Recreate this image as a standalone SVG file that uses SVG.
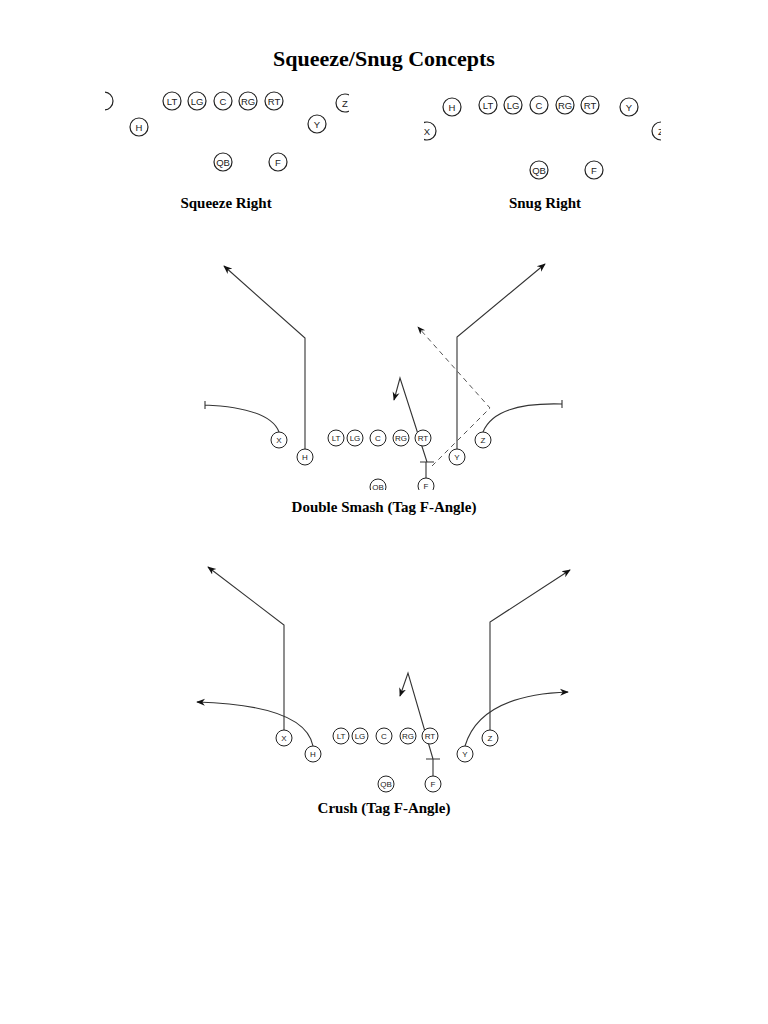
<svg xmlns="http://www.w3.org/2000/svg" width="768" height="1024" viewBox="0 0 768 1024">
<style>
.t{font-family:"Liberation Serif",serif;font-weight:bold;fill:#000;text-anchor:middle}
.n circle{fill:#fff;stroke:#222;stroke-width:1}
.n text{font-family:"Liberation Sans",sans-serif;font-size:8px;text-anchor:middle;fill:#222}
.big circle{stroke-width:1.2}
.big text{font-size:9.5px}
.r{fill:none;stroke:#333;stroke-width:1.1}
.d{fill:none;stroke:#555;stroke-width:1;stroke-dasharray:5,4}
</style>
<defs>
<marker id="a" viewBox="0 0 10 10" refX="9" refY="5" markerWidth="8" markerHeight="8" orient="auto"><path d="M0,1 L10,5 L0,9 L3,5 Z" fill="#111"/></marker>
<clipPath id="c1"><rect x="105" y="80" width="244" height="100"/></clipPath>
<clipPath id="c2"><rect x="424" y="80" width="237" height="110"/></clipPath>
<clipPath id="c3"><rect x="0" y="0" width="768" height="490"/></clipPath>
</defs>
<rect width="768" height="1024" fill="#fff"/>
<text class="t" x="384" y="66" font-size="22">Squeeze/Snug Concepts</text>
<g clip-path="url(#c1)">
<g id="sqX" class="n big"><circle cx="104" cy="101" r="9"/></g>
<g id="sqLT" class="n big"><circle cx="172" cy="101" r="9"/><text x="172" y="104.5">LT</text></g>
<g id="sqLG" class="n big"><circle cx="197" cy="101" r="9"/><text x="197" y="104.5">LG</text></g>
<g id="sqC" class="n big"><circle cx="223" cy="101" r="9"/><text x="223" y="104.5">C</text></g>
<g id="sqRG" class="n big"><circle cx="248" cy="101" r="9"/><text x="248" y="104.5">RG</text></g>
<g id="sqRT" class="n big"><circle cx="274" cy="101" r="9"/><text x="274" y="104.5">RT</text></g>
<g id="sqH" class="n big"><circle cx="139" cy="127" r="9"/><text x="139" y="130.5">H</text></g>
<g id="sqY" class="n big"><circle cx="317" cy="124" r="9"/><text x="317" y="127.5">Y</text></g>
<g id="sqZ" class="n big"><circle cx="345" cy="103" r="9"/><text x="345" y="106.5">Z</text></g>
<g id="sqQB" class="n big"><circle cx="223" cy="162" r="9"/><text x="223" y="165.5">QB</text></g>
<g id="sqF" class="n big"><circle cx="278" cy="162" r="9"/><text x="278" y="165.5">F</text></g>
</g>
<text class="t" x="226" y="208" font-size="15">Squeeze Right</text>
<g clip-path="url(#c2)">
<g id="snH" class="n big"><circle cx="452" cy="107" r="9"/><text x="452" y="110.5">H</text></g>
<g id="snLT" class="n big"><circle cx="488" cy="105" r="9"/><text x="488" y="108.5">LT</text></g>
<g id="snLG" class="n big"><circle cx="513" cy="105" r="9"/><text x="513" y="108.5">LG</text></g>
<g id="snC" class="n big"><circle cx="539" cy="105" r="9"/><text x="539" y="108.5">C</text></g>
<g id="snRG" class="n big"><circle cx="565" cy="105" r="9"/><text x="565" y="108.5">RG</text></g>
<g id="snRT" class="n big"><circle cx="590" cy="105" r="9"/><text x="590" y="108.5">RT</text></g>
<g id="snY" class="n big"><circle cx="629" cy="107" r="9"/><text x="629" y="110.5">Y</text></g>
<g id="snX" class="n big"><circle cx="427" cy="131" r="9"/><text x="427" y="134.5">X</text></g>
<g id="snZ" class="n big"><circle cx="661" cy="131" r="9"/><text x="661" y="134.5">Z</text></g>
<g id="snQB" class="n big"><circle cx="539" cy="170" r="9"/><text x="539" y="173.5">QB</text></g>
<g id="snF" class="n big"><circle cx="594" cy="170" r="9"/><text x="594" y="173.5">F</text></g>
</g>
<text class="t" x="545" y="208" font-size="15">Snug Right</text>

<g id="connectors">
<g clip-path="url(#c3)">
<path class="r" d="M305,449 V338 L224,266" marker-end="url(#a)"/>
<path class="r" d="M457,449 V337 L545,264" marker-end="url(#a)"/>
<path class="r" d="M279,432 Q270,408 205,405 M205,401 V409"/>
<path class="r" d="M483,432 Q495,402 562,404 M562,400 V408"/>
<path class="r" d="M426,478 V462 M420,462 H434 M427,462 L400,378 L394,400" marker-end="url(#a)"/>
<path class="d" d="M432,466 L490,408 L418,327" marker-end="url(#a)"/>
</g>
<path class="r" d="M284,730 V625 L208,567" marker-end="url(#a)"/>
<path class="r" d="M490,730 V622 L570,570" marker-end="url(#a)"/>
<path class="r" d="M313,746 Q305,705 197,702" marker-end="url(#a)"/>
<path class="r" d="M465,746 Q480,695 568,692" marker-end="url(#a)"/>
<path class="r" d="M433,776 V759 M426,759 H440 M433,759 L408,673 L400,696" marker-end="url(#a)"/>
</g>

<g clip-path="url(#c3)">
<g id="dsX" class="n"><circle cx="279" cy="440" r="8"/><text x="279" y="443">X</text></g>
<g id="dsH" class="n"><circle cx="305" cy="457" r="8"/><text x="305" y="460">H</text></g>
<g id="dsLT" class="n"><circle cx="336" cy="438" r="8"/><text x="336" y="441">LT</text></g>
<g id="dsLG" class="n"><circle cx="355" cy="438" r="8"/><text x="355" y="441">LG</text></g>
<g id="dsC" class="n"><circle cx="378" cy="438" r="8"/><text x="378" y="441">C</text></g>
<g id="dsRG" class="n"><circle cx="401" cy="438" r="8"/><text x="401" y="441">RG</text></g>
<g id="dsRT" class="n"><circle cx="423" cy="438" r="8"/><text x="423" y="441">RT</text></g>
<g id="dsY" class="n"><circle cx="457" cy="457" r="8"/><text x="457" y="460">Y</text></g>
<g id="dsZ" class="n"><circle cx="483" cy="440" r="8"/><text x="483" y="443">Z</text></g>
<g id="dsQB" class="n"><circle cx="378" cy="487" r="8"/><text x="378" y="490">QB</text></g>
<g id="dsF" class="n"><circle cx="426" cy="486" r="8"/><text x="426" y="489">F</text></g>
</g>
<text class="t" x="384" y="512" font-size="15">Double Smash (Tag F-Angle)</text>

<g id="crX" class="n"><circle cx="284" cy="738" r="8"/><text x="284" y="741">X</text></g>
<g id="crH" class="n"><circle cx="313" cy="754" r="8"/><text x="313" y="757">H</text></g>
<g id="crLT" class="n"><circle cx="341" cy="736" r="8"/><text x="341" y="739">LT</text></g>
<g id="crLG" class="n"><circle cx="360" cy="736" r="8"/><text x="360" y="739">LG</text></g>
<g id="crC" class="n"><circle cx="384" cy="736" r="8"/><text x="384" y="739">C</text></g>
<g id="crRG" class="n"><circle cx="408" cy="736" r="8"/><text x="408" y="739">RG</text></g>
<g id="crRT" class="n"><circle cx="430" cy="736" r="8"/><text x="430" y="739">RT</text></g>
<g id="crY" class="n"><circle cx="465" cy="754" r="8"/><text x="465" y="757">Y</text></g>
<g id="crZ" class="n"><circle cx="490" cy="738" r="8"/><text x="490" y="741">Z</text></g>
<g id="crQB" class="n"><circle cx="386" cy="784" r="8"/><text x="386" y="787">QB</text></g>
<g id="crF" class="n"><circle cx="433" cy="784" r="8"/><text x="433" y="787">F</text></g>
<text class="t" x="384" y="813" font-size="15">Crush (Tag F-Angle)</text>
</svg>
